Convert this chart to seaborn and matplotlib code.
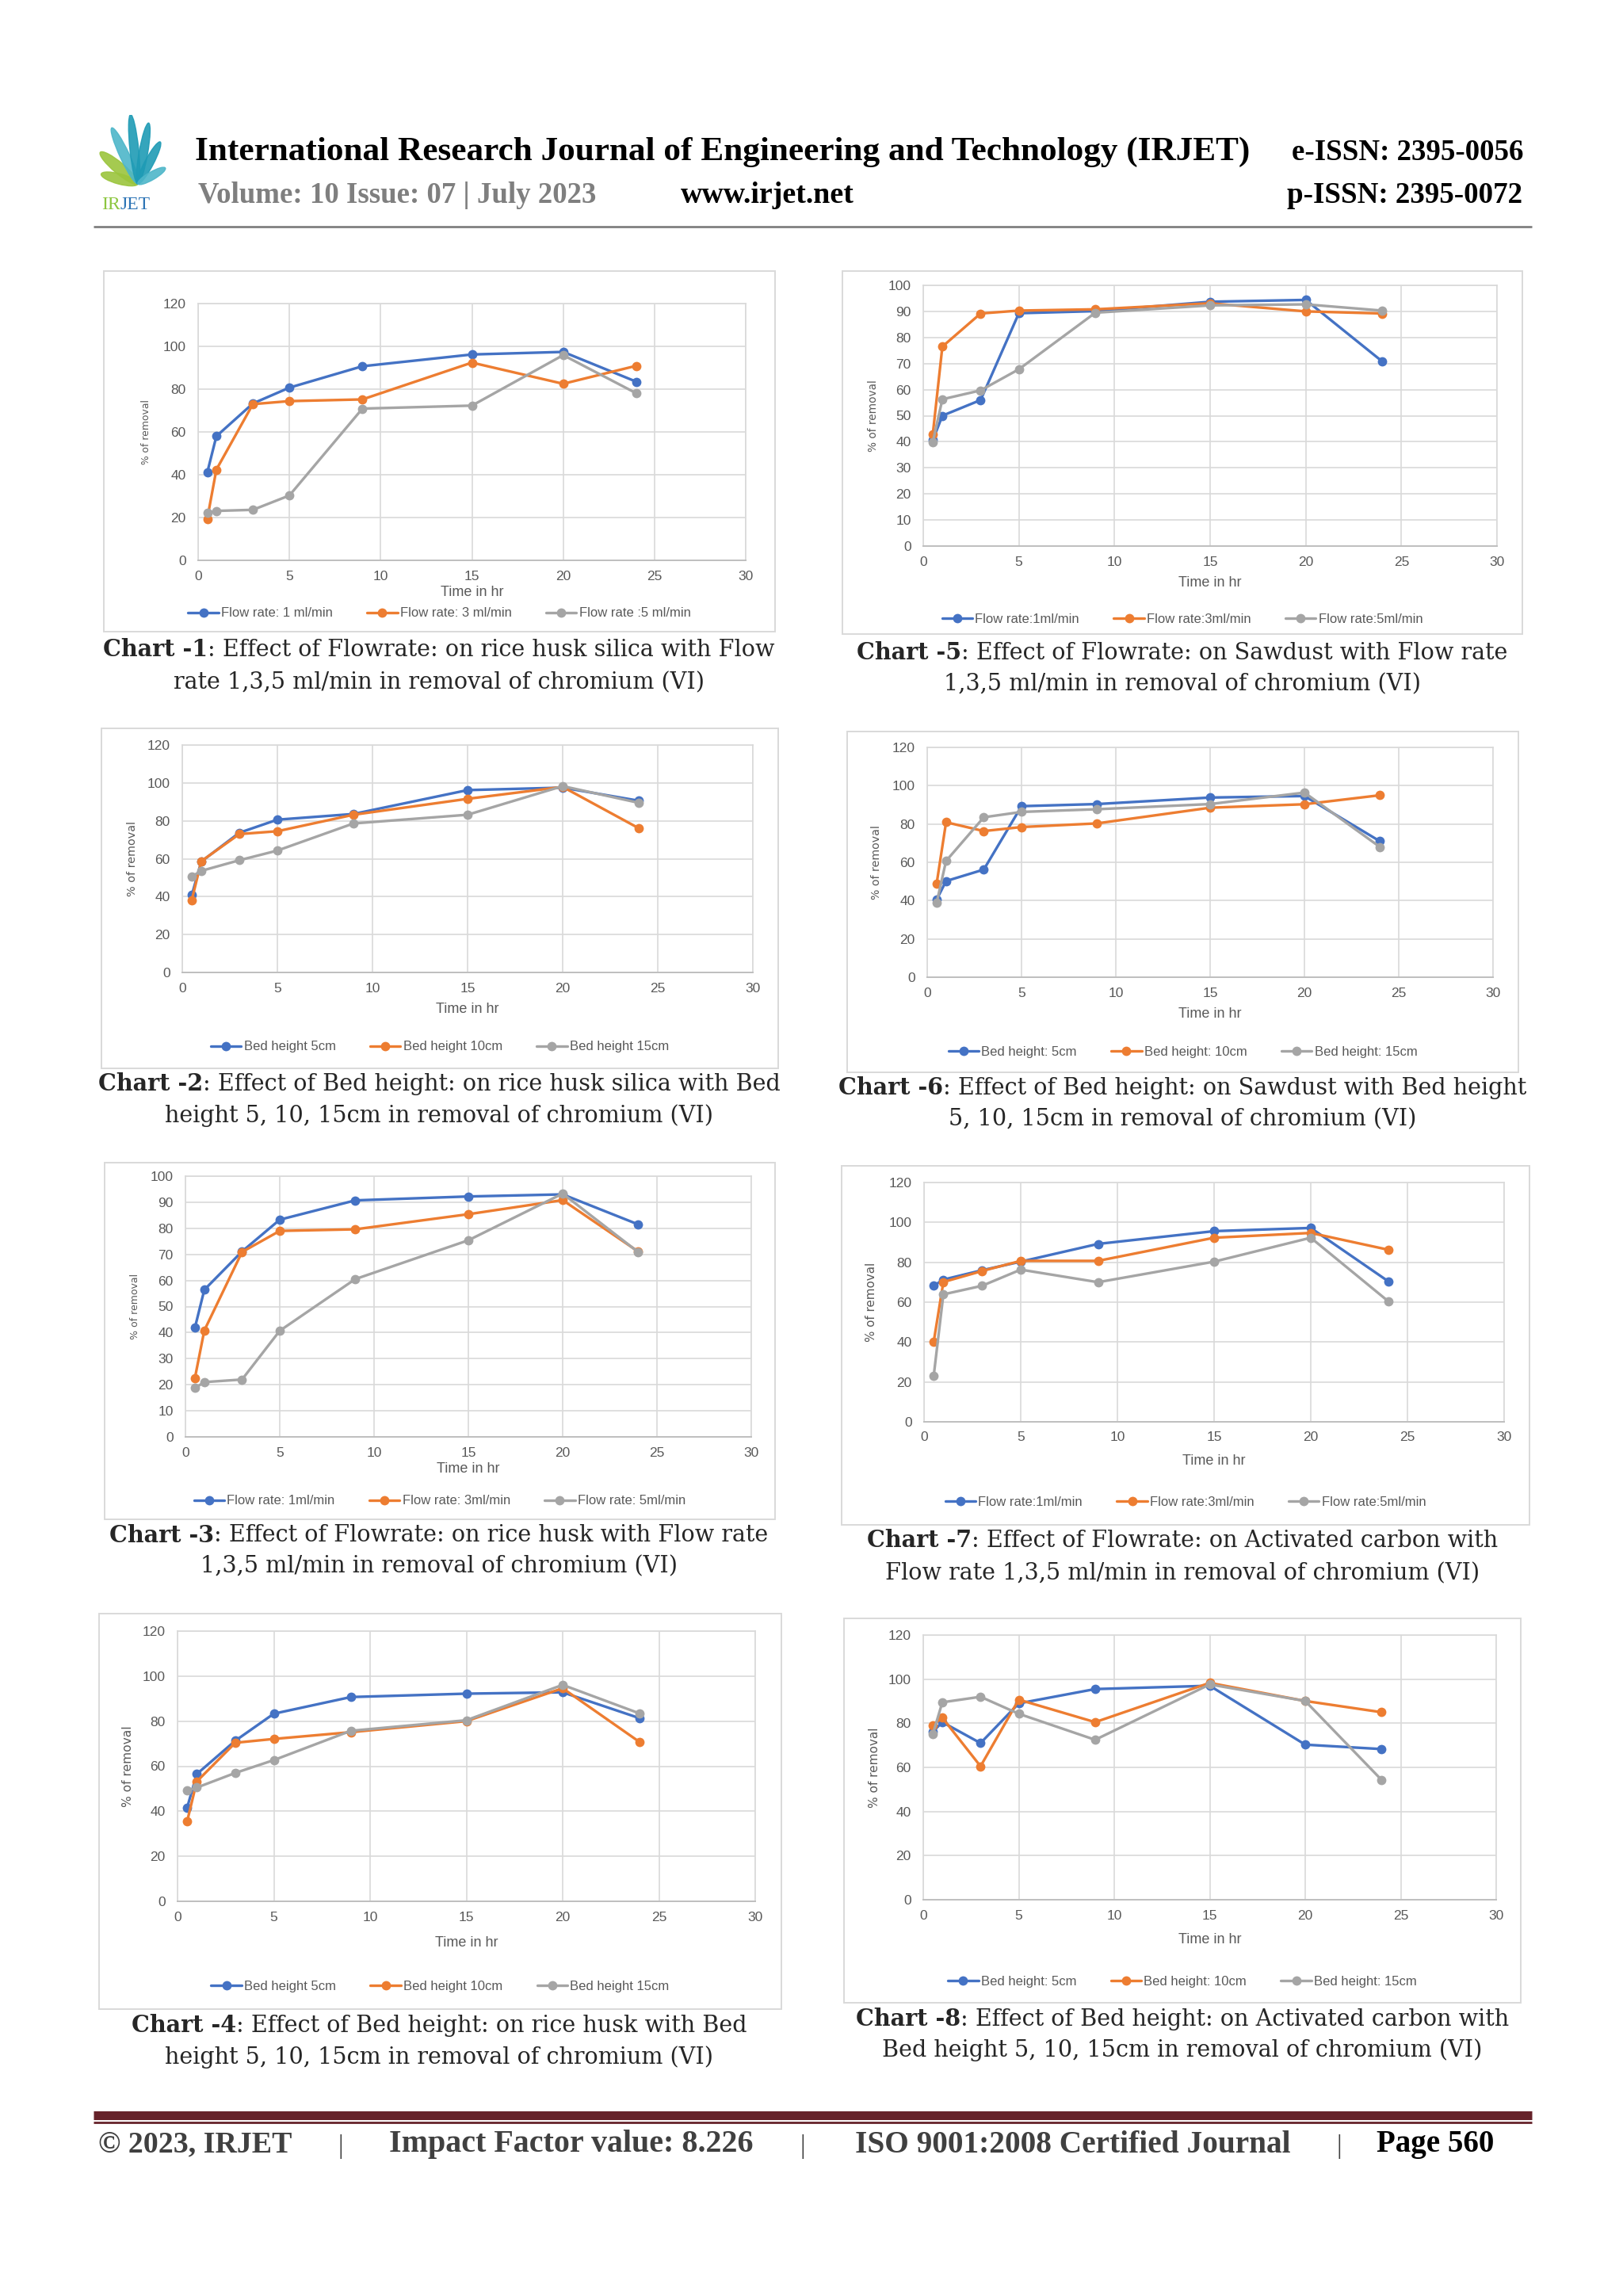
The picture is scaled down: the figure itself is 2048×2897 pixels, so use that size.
import numpy as np
import pandas as pd
import seaborn as sns
import matplotlib.pyplot as plt
from matplotlib.patches import Rectangle, Ellipse

W, H = 2048, 2897

# sampling times (hr), same for every chart
time_hr = [0.5, 1, 3, 5, 9, 15, 20, 24]

# Chart 1 - rice husk silica, flow rate
rhs_fr1 = [41, 58, 73.3, 80.7, 90.7, 96.2, 97.4, 83.5]
rhs_fr3 = [19.4, 42.4, 73, 74.4, 75.2, 92.4, 82.5, 90.9]
rhs_fr5 = [22.3, 23.1, 23.6, 30.3, 70.9, 72.3, 95.9, 78.1]
# Chart 2 - rice husk silica, bed height
rhs_bh5 = [40.8, 58.5, 73.7, 80.6, 83.6, 96.2, 97.5, 90.6]
rhs_bh10 = [38.2, 58.7, 73, 74.5, 83.2, 91.6, 97.9, 76.1]
rhs_bh15 = [50.6, 53.6, 59.2, 64.3, 78.6, 83.2, 98.3, 89.5]
# Chart 3 - rice husk, flow rate
rh_fr1 = [41.8, 56.4, 71.1, 83.3, 90.7, 92.2, 93, 81.5]
rh_fr3 = [22.5, 40.8, 70.9, 79, 79.6, 85.4, 90.8, 71.1]
rh_fr5 = [18.7, 21, 22, 40.7, 60.5, 75.4, 93.3, 70.9]
# Chart 4 - rice husk, bed height
rh_bh5 = [41.6, 56.5, 71.3, 83.3, 90.7, 92.2, 92.8, 81.3]
rh_bh10 = [35.5, 53.2, 70.4, 72.1, 75.1, 80, 94.6, 70.7]
rh_bh15 = [49.1, 50.5, 57, 62.7, 75.7, 80.4, 96.1, 83.4]
# Chart 5 - sawdust, flow rate
sd_fr1 = [40.6, 50, 56, 89.3, 90.1, 93.7, 94.4, 70.8]
sd_fr3 = [42.9, 76.5, 89.2, 90.3, 90.8, 93.1, 90, 89.2]
sd_fr5 = [39.9, 56.3, 59.7, 67.8, 89.5, 92.3, 92.7, 90.3]
# Chart 6 - sawdust, bed height
sd_bh5 = [40.5, 50.2, 56.2, 89.3, 90.4, 93.8, 94.6, 71]
sd_bh10 = [48.8, 80.9, 76.3, 78.4, 80.3, 88.5, 90.3, 95]
sd_bh15 = [38.8, 60.7, 83.5, 86.3, 87.7, 90.4, 96.4, 68]
# Chart 7 - activated carbon, flow rate
ac_fr1 = [68.2, 71.3, 76, 80.3, 89.2, 95.6, 97.2, 70.5]
ac_fr3 = [40.1, 70.1, 75.6, 80.7, 80.7, 92.3, 94.7, 86.3]
ac_fr5 = [23, 63.9, 68.2, 76.3, 70, 80.3, 92.3, 60.5]
# Chart 8 - activated carbon, bed height
ac_bh5 = [76.2, 80.5, 71, 89, 95.5, 97, 70.3, 68.3]
ac_bh10 = [79.2, 82.5, 60.5, 90.7, 80.5, 98.3, 90.1, 85]
ac_bh15 = [75, 89.5, 92, 84.3, 72.5, 97.6, 90.1, 54.3]

labels_c1 = ['Flow rate: 1 ml/min', 'Flow rate: 3 ml/min', 'Flow rate :5 ml/min']
labels_c2 = ['Bed height 5cm', 'Bed height 10cm', 'Bed height 15cm']
labels_c3 = ['Flow rate: 1ml/min', 'Flow rate: 3ml/min', 'Flow rate: 5ml/min']
labels_c4 = ['Bed height 5cm', 'Bed height 10cm', 'Bed height 15cm']
labels_c5 = ['Flow rate:1ml/min', 'Flow rate:3ml/min', 'Flow rate:5ml/min']
labels_c6 = ['Bed height: 5cm', 'Bed height: 10cm', 'Bed height: 15cm']
labels_c7 = ['Flow rate:1ml/min', 'Flow rate:3ml/min', 'Flow rate:5ml/min']
labels_c8 = ['Bed height: 5cm', 'Bed height: 10cm', 'Bed height: 15cm']

COLORS = ['#4472C4', '#ED7D31', '#A5A5A5']
GRID = '#d9d9d9'
TXT = '#595959'
SERIF = ['Liberation Serif', 'DejaVu Serif']
CAPSERIF = ['DejaVu Serif']
SANS = ['Liberation Sans', 'DejaVu Sans']

sns.set_style('white')
plt.rcParams['font.family'] = SANS

fig = plt.figure(figsize=(W / 100, H / 100), dpi=100)
fig.patch.set_facecolor('white')
renderer = fig.canvas.get_renderer()


def fx(px):
    return px / W


def fy(py):
    return 1 - py / H


def box(x0, y0, x1, y1, color=GRID, lw=1.4):
    fig.patches.append(Rectangle((fx(x0), fy(y1)), (x1 - x0) / W, (y1 - y0) / H,
                                 transform=fig.transFigure, fill=False, ec=color, lw=lw))


def hline(x0, x1, y, color, lw):
    fig.add_artist(plt.Line2D([fx(x0), fx(x1)], [fy(y), fy(y)], transform=fig.transFigure,
                              color=color, lw=lw, solid_capstyle='butt'))


def fit_text(x0, x1, y, s, color='black', weight='bold', family=SERIF):
    # scale font so the text spans x0..x1 pixels
    t = fig.text(fx(x0), fy(y), s, fontsize=20, color=color, fontweight=weight,
                 family=family, ha='left', va='center')
    w = t.get_window_extent(renderer).width
    t.set_fontsize(20 * (x1 - x0) / w)
    return t


# caption size: line one of chart 1 spans about 835 px in the reference
_probe = fig.text(0, 0, 'Chart -1: Effect of Flowrate: on rice husk silica with Flow',
                  fontsize=20, family=CAPSERIF)
CAP_SIZE = 20 * 835 / _probe.get_window_extent(renderer).width
_probe.remove()


def caption(cx, y1, y2, head, rest, line2, size=CAP_SIZE):
    t1 = fig.text(0, 0, head, fontsize=size, fontweight='bold', family=CAPSERIF, va='center')
    t2 = fig.text(0, 0, rest, fontsize=size, family=CAPSERIF, va='center')
    w1 = t1.get_window_extent(renderer).width
    w2 = t2.get_window_extent(renderer).width
    start = cx - (w1 + w2) / 2
    t1.set_position((fx(start), fy(y1)))
    t2.set_position((fx(start + w1), fy(y1)))
    fig.text(fx(cx), fy(y2), line2, fontsize=size, family=CAPSERIF, ha='center', va='center')


def chart(series, labels, ymax, ystep, axes, frame, leg_y, xlab_y, ylab_x, ylab_size, cap):
    x0, y0, x1, y1 = axes
    box(*frame)
    ax = fig.add_axes([fx(x0), fy(y1), (x1 - x0) / W, (y1 - y0) / H])
    for vals, lab, col in zip(series, labels, COLORS):
        sns.lineplot(x=time_hr, y=vals, ax=ax, color=col, marker='o', markersize=8.5,
                     markeredgewidth=0, linewidth=2.4, label=lab, sort=False)
    ax.set_xlim(0, 30)
    ax.set_ylim(0, ymax)
    ax.set_xticks(range(0, 31, 5))
    ax.set_yticks(np.arange(0, ymax + 1, ystep))
    ax.grid(True, color=GRID, lw=1.2)
    ax.set_axisbelow(True)
    for side in ['left', 'top', 'right']:
        ax.spines[side].set_color(GRID)
        ax.spines[side].set_linewidth(1.2)
    ax.spines['bottom'].set_color('#bfbfbf')
    ax.spines['bottom'].set_linewidth(1.4)
    ax.tick_params(length=0, colors=TXT, labelsize=12.5)
    ax.tick_params(axis='y', pad=11)
    ax.tick_params(axis='x', pad=9)
    ax.set_xlabel('Time in hr', fontsize=13, color=TXT)
    ax.xaxis.set_label_coords(fx((x0 + x1) / 2), fy(xlab_y), transform=fig.transFigure)
    ax.xaxis.label.set_va('center')
    ax.set_ylabel('% of removal', fontsize=ylab_size, color=TXT, family=['DejaVu Sans'])
    ax.yaxis.set_label_coords(fx(ylab_x), fy((y0 + y1) / 2), transform=fig.transFigure)
    ax.yaxis.label.set_va('center')
    ax.legend(loc='center', bbox_to_anchor=(fx((frame[0] + frame[2]) / 2), fy(leg_y)),
              bbox_transform=fig.transFigure, ncol=3, frameon=False, fontsize=12,
              handlelength=2.3, handletextpad=0.2, columnspacing=2.6, labelcolor=TXT)
    caption(*cap)


LX, RX = 554, 1492

chart((rhs_fr1, rhs_fr3, rhs_fr5), labels_c1, 120, 20, (250, 383, 941, 707), (131, 342, 978, 797),
      774, 748, 185, 8.9,
      (LX, 820, 861, 'Chart -1', ': Effect of Flowrate: on rice husk silica with Flow',
       'rate 1,3,5 ml/min in removal of chromium (VI)'))
chart((sd_fr1, sd_fr3, sd_fr5), labels_c5, 100, 10, (1165, 360, 1889, 689), (1063, 342, 1921, 800),
      781, 735, 1102, 9.8,
      (RX, 824, 863, 'Chart -5', ': Effect of Flowrate: on Sawdust with Flow rate',
       '1,3,5 ml/min in removal of chromium (VI)'))
chart((rhs_bh5, rhs_bh10, rhs_bh15), labels_c2, 120, 20, (230, 940, 950, 1227), (128, 919, 982, 1348),
      1321, 1274, 167, 10.4,
      (LX, 1368, 1408, 'Chart -2', ': Effect of Bed height: on rice husk silica with Bed',
       'height 5, 10, 15cm in removal of chromium (VI)'))
chart((sd_bh5, sd_bh10, sd_bh15), labels_c6, 120, 20, (1170, 943, 1884, 1233), (1069, 923, 1916, 1353),
      1327, 1280, 1106, 10.2,
      (RX, 1373, 1412, 'Chart -6', ': Effect of Bed height: on Sawdust with Bed height',
       '5, 10, 15cm in removal of chromium (VI)'))
chart((rh_fr1, rh_fr3, rh_fr5), labels_c3, 100, 10, (234, 1484, 948, 1813), (132, 1467, 978, 1917),
      1894, 1853, 170, 9.0,
      (LX, 1937, 1976, 'Chart -3', ': Effect of Flowrate: on rice husk with Flow rate',
       '1,3,5 ml/min in removal of chromium (VI)'))
chart((ac_fr1, ac_fr3, ac_fr5), labels_c7, 120, 20, (1166, 1492, 1898, 1794), (1062, 1471, 1930, 1924),
      1895, 1844, 1100, 10.9,
      (RX, 1944, 1985, 'Chart -7', ': Effect of Flowrate: on Activated carbon with',
       'Flow rate 1,3,5 ml/min in removal of chromium (VI)'))
chart((rh_bh5, rh_bh10, rh_bh15), labels_c4, 120, 20, (224, 2058, 953, 2399), (125, 2036, 986, 2535),
      2506, 2452, 161, 11.2,
      (LX, 2556, 2596, 'Chart -4', ': Effect of Bed height: on rice husk with Bed',
       'height 5, 10, 15cm in removal of chromium (VI)'))
chart((ac_bh5, ac_bh10, ac_bh15), labels_c8, 120, 20, (1165, 2063, 1888, 2397), (1065, 2042, 1919, 2527),
      2500, 2448, 1103, 11.0,
      (RX, 2548, 2587, 'Chart -8', ': Effect of Bed height: on Activated carbon with',
       'Bed height 5, 10, 15cm in removal of chromium (VI)'))

# ---- page header ----
logo = fig.add_axes([fx(112), fy(272), 120 / W, 127 / H])
logo.set_xlim(0, 120)
logo.set_ylim(0, 127)
logo.set_aspect('equal')
logo.axis('off')
base = (62, 40)
leaves = [(165, 48, 13, '#9bc53d'), (140, 62, 14, '#9bc53d'), (115, 78, 12, '#4db6c9'),
          (96, 88, 11, '#1f9bb5'), (80, 78, 11, '#1f9bb5'), (62, 60, 11, '#1f9bb5'),
          (30, 40, 10, '#4db6c9')]
for ang, ln, wd, col in leaves:
    a = np.deg2rad(ang)
    c = (base[0] + ln / 2 * np.cos(a), base[1] + ln / 2 * np.sin(a))
    logo.add_patch(Ellipse(c, ln, wd, angle=ang, color=col, alpha=0.9))
logo.text(40, 14, 'IR', color='#8cc63f', fontsize=17, family=SERIF, ha='right', va='center')
logo.text(40, 14, 'JET', color='#2e75b6', fontsize=17, family=SERIF, ha='left', va='center')

fit_text(246, 1577, 192, 'International Research Journal of Engineering and Technology (IRJET)')
fit_text(1630, 1921, 193, 'e-ISSN: 2395-0056')
fit_text(250, 752, 246, 'Volume: 10 Issue: 07 | July 2023', color='#7f7f7f')
fit_text(859, 1078, 246, 'www.irjet.net')
fit_text(1624, 1920, 246, 'p-ISSN: 2395-0072')
hline(118, 1933, 286, '#808080', 2.0)

# ---- page footer ----
hline(118, 1933, 2669, '#66222a', 8)
hline(118, 1933, 2678, '#66222a', 2)
fit_text(124, 367, 2706, '\u00a9 2023, IRJET', color='#404040')
fit_text(491, 952, 2706, 'Impact Factor value: 8.226', color='#404040')
fit_text(1079, 1628, 2706, 'ISO 9001:2008 Certified Journal', color='#404040')
fit_text(1737, 1885, 2706, 'Page 560', color='black')
for sx in [430, 1013, 1690]:
    fig.text(fx(sx), fy(2708), '|', fontsize=24, family=SERIF, ha='center', va='center', color='#404040')

fig.savefig('out.png', dpi=100, facecolor='white')
